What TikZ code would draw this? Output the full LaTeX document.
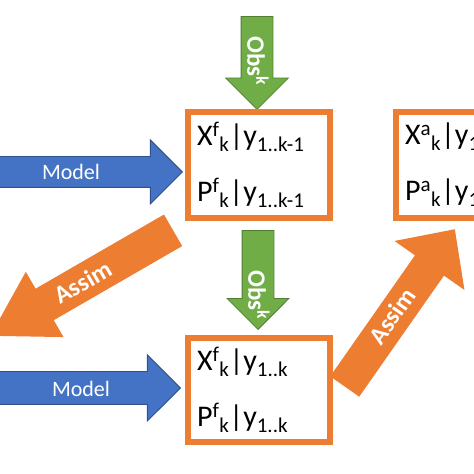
\documentclass[tikz,border=0pt]{standalone}
\usepackage{fontspec}
\setmainfont{Carlito}
\usetikzlibrary{shapes.arrows,positioning}
\definecolor{orng}{RGB}{237,125,49}
\definecolor{blueF}{RGB}{68,114,196}
\definecolor{blueD}{RGB}{47,82,143}
\definecolor{greenF}{RGB}{112,173,71}
\definecolor{greenD}{RGB}{80,126,50}

\begin{document}
\begin{tikzpicture}[x=1pt, y=1pt,
  statebox/.style={rectangle, draw=orng, line width=6pt, fill=white,
    minimum width=142pt, minimum height=106pt, inner sep=0pt,
    text width=124pt, align=left, font=\fontsize{30}{56}\selectfont},
  blockarr/.style={single arrow, anchor=tip, inner sep=0pt,
    minimum width=0pt, text depth=0pt},
  modelarr/.style={blockarr, fill=blueF, draw=blueD, line width=0.9pt,
    text height=30pt, single arrow head extend=16.5pt},
  obsarr/.style={blockarr, rotate=-90, fill=greenF, draw=greenD, line width=0.8pt,
    text height=31pt, single arrow head extend=15.5pt},
  assimarr/.style={blockarr, fill=orng},
  lblmodel/.style={text=white, font=\fontsize{22}{26}\selectfont},
  lblbold/.style={text=white, font=\bfseries\fontsize{25}{30}\selectfont},
]
  \useasboundingbox (0,0) rectangle (474,474);
  \clip (0,0) rectangle (474,474);

  % block arrows, tips at their targets
  \node[modelarr, minimum height=224pt] (modelA) at (183,302) {};
  \node[modelarr, minimum height=200pt, text height=32pt] (modelB) at (181,86) {};
  \node[obsarr, minimum height=93pt] (obsA) at (257,364) {};
  \node[obsarr, minimum height=99pt, single arrow head extend=15pt] (obsB) at (258,144) {};
  \node[assimarr, rotate=210, minimum height=211pt, text height=36pt,
    single arrow head extend=19.5pt, single arrow tip angle=62] (assimL) at (-10,138) {};
  \node[assimarr, rotate=55, minimum height=192pt, text height=35pt,
    single arrow head extend=25pt, single arrow tip angle=88] (assimR) at (455,245) {};

  \node[lblmodel] (modelAtxt) at (71,302) {Model};
  \node[lblmodel] (modelBtxt) at (81,85) {Model};
  \node[lblbold, rotate=-90] (obsAtxt) at (258,413) {Obs\textsuperscript{k}};
  \node[lblbold, rotate=-90] (obsBtxt) at (259,179) {Obs\textsuperscript{k}};
  \node[lblbold, rotate=30] (assimLtxt) at (83,192) {Assim};
  \node[lblbold, rotate=55] (assimRtxt) at (392,158) {Assim};

  % state boxes
  \node[statebox] (fc1) at (259,309)
    {X\textsuperscript{f}\textsubscript{k}|y\textsubscript{1..k-1}\\
     P\textsuperscript{f}\textsubscript{k}|y\textsubscript{1..k-1}};
  \node[statebox, minimum height=104pt] (fc2) at (259,84)
    {X\textsuperscript{f}\textsubscript{k}|y\textsubscript{1..k}\\
     P\textsuperscript{f}\textsubscript{k}|y\textsubscript{1..k}};
  \node[statebox] (an1) at (467,309)
    {X\textsuperscript{a}\textsubscript{k}|y\textsubscript{1..k}\\
     P\textsuperscript{a}\textsubscript{k}|y\textsubscript{1..k}};
\end{tikzpicture}
\end{document}
